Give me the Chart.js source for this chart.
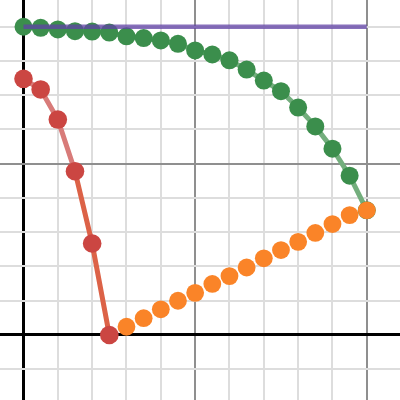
<!DOCTYPE html>
<html>
<head>
<meta charset="utf-8">
<script src="https://cdn.jsdelivr.net/npm/chart.js@4"></script>
<style>
html,body{margin:0;padding:0;background:#fff;}
#wrap{width:400px;height:400px;}
</style>
</head>
<body>
<div id="wrap"><canvas id="c" width="400" height="400"></canvas></div>
<script>
// ---- data ----
const xTicks = [0,1,2,3,4,5,6,7,8,9,10];
const yTicks = [-1,0,1,2,3,4,5,6,7,8,9];

const purpleX = [0, 10];
const purpleY = [9, 9];

const greenX = [0,0.5,1,1.5,2,2.5,3,3.5,4,4.5,5,5.5,6,6.5,7,7.5,8,8.5,9,9.5,10];
const greenY = [9.0,8.97,8.92,8.87,8.86,8.83,8.72,8.67,8.60,8.50,8.31,8.19,8.02,7.75,7.43,7.12,6.64,6.09,5.44,4.65,3.64];

const redX = [0,0.5,1,1.5,2,2.5];
const redY = [7.48,7.17,6.29,4.78,2.67,0];

const orangeX = [3,3.5,4,4.5,5,5.5,6,6.5,7,7.5,8,8.5,9,9.5,10];
const orangeY = [0.24,0.49,0.75,1.0,1.23,1.49,1.72,1.97,2.24,2.48,2.72,2.98,3.24,3.50,3.64];

const pts = (xs, ys) => xs.map((x, i) => ({x: x, y: ys[i]}));

function gridColor(ctx){
  const v = ctx.tick ? ctx.tick.value : null;
  if (v === 0) return '#000000';
  if (v % 5 === 0) return '#8f8f8f';
  return '#dddddd';
}
function gridWidth(ctx){
  const v = ctx.tick ? ctx.tick.value : null;
  if (v === 0) return 3;
  return 2;
}

new Chart(document.getElementById('c'), {
  type: 'scatter',
  data: {
    datasets: [
      {
        data: pts(purpleX, purpleY),
        showLine: true,
        borderColor: 'rgba(96,66,166,0.75)',
        borderWidth: 4.5,
        pointRadius: 0,
        pointHoverRadius: 0
      },
      {
        data: pts(orangeX, orangeY),
        showLine: false,
        backgroundColor: '#fa8428',
        pointRadius: 8.9,
        pointBorderWidth: 0
      },
      {
        data: pts(redX, redY),
        showLine: true,
        borderWidth: 5,
        borderColor: '#d87b79',
        segment: {
          borderColor: ctx => ctx.p0DataIndex >= 3 ? '#dc6247' : '#d87b79'
        },
        backgroundColor: '#cb4642',
        pointRadius: 9.3,
        pointBorderWidth: 0,
        tension: 0
      },
      {
        data: pts(greenX, greenY),
        showLine: true,
        borderWidth: 5,
        borderColor: '#73ae7d',
        backgroundColor: '#3b8e4c',
        pointRadius: 9,
        pointBorderWidth: 0,
        tension: 0
      }
    ]
  },
  options: {
    responsive: false,
    animation: false,
    devicePixelRatio: 1,
    layout: {padding: 0, autoPadding: false},
    plugins: {legend: {display: false}, tooltip: {enabled: false}, title: {display: false}},
    scales: {
      x: {
        type: 'linear',
        min: -0.6845,
        max: 10.967,
        afterBuildTicks: s => { s.ticks = xTicks.map(v => ({value: v})); },
        ticks: {display: false},
        border: {display: false},
        grid: {color: gridColor, lineWidth: gridWidth, drawTicks: false}
      },
      y: {
        type: 'linear',
        min: -1.898,
        max: 9.781,
        afterBuildTicks: s => { s.ticks = yTicks.map(v => ({value: v})); },
        ticks: {display: false},
        border: {display: false},
        grid: {color: gridColor, lineWidth: gridWidth, drawTicks: false}
      }
    }
  }
});
</script>
</body>
</html>
